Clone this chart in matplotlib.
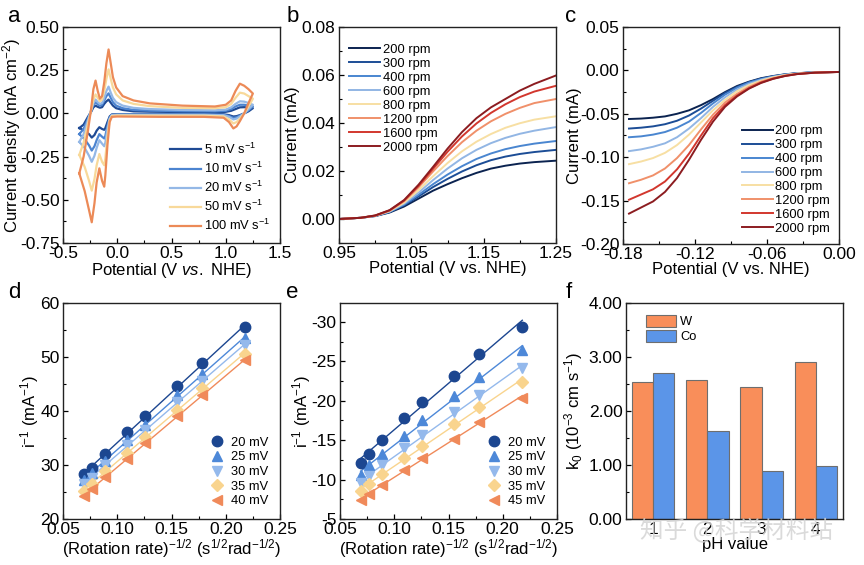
import numpy as np
import matplotlib
matplotlib.use("Agg")
import matplotlib.pyplot as plt
from matplotlib.ticker import MultipleLocator, FormatStrFormatter
from matplotlib.lines import Line2D

plt.rcParams['font.family'] = ['Liberation Sans', 'DejaVu Sans']
plt.rcParams['mathtext.fontset'] = 'custom'
plt.rcParams['mathtext.rm'] = 'Liberation Sans'
plt.rcParams['mathtext.it'] = 'Liberation Sans:italic'
plt.rcParams['mathtext.bf'] = 'Liberation Sans:bold'
plt.rcParams['axes.unicode_minus'] = False

# ---------------- Panel a: CV data ----------------
cv_labels = ["5 mV s$^{-1}$", "10 mV s$^{-1}$", "20 mV s$^{-1}$", "50 mV s$^{-1}$", "100 mV s$^{-1}$"]
cv_colors = ["#1F4A94", "#4C84D0", "#94B8E6", "#F8D99A", "#EC8A57"]
cv_x_anodic = [-0.35, -0.31, -0.27, -0.24, -0.22, -0.20, -0.18, -0.16, -0.14, -0.12, -0.10, -0.08, -0.06,
               -0.04, -0.01, 0.05, 0.15, 0.3, 0.6, 0.9, 1.0, 1.05, 1.09, 1.13, 1.17, 1.21, 1.25]
cv_x_cathodic = [1.25, 1.21, 1.17, 1.13, 1.10, 1.07, 1.03, 0.98, 0.8, 0.4, 0.0, -0.05, -0.07, -0.09,
                 -0.11, -0.12, -0.14, -0.165, -0.19, -0.21, -0.235, -0.26, -0.30, -0.35]
cv5_anodic = [-0.085, -0.065, -0.02, 0.01, 0.035, 0.045, 0.038, 0.033, 0.036, 0.055, 0.07, 0.08, 0.062,
              0.045, 0.03, 0.02, 0.012, 0.01, 0.008, 0.007, 0.009, 0.015, 0.025, 0.035, 0.036, 0.033, 0.03]
cv5_cathodic = [0.03, 0.012, 0.0, -0.01, -0.016, -0.018, -0.01, -0.005, -0.004, -0.004, -0.004, -0.006,
                -0.018, -0.05, -0.085, -0.095, -0.09, -0.08, -0.10, -0.125, -0.14, -0.12, -0.10, -0.085]
cv10_anodic = [-0.12, -0.09, -0.03, 0.015, 0.05, 0.065, 0.052, 0.045, 0.05, 0.075, 0.10, 0.116, 0.09,
               0.065, 0.045, 0.03, 0.02, 0.016, 0.013, 0.012, 0.015, 0.025, 0.04, 0.05, 0.05, 0.045, 0.04]
cv10_cathodic = [0.04, 0.018, 0.0, -0.013, -0.022, -0.026, -0.015, -0.008, -0.006, -0.006, -0.006, -0.008,
                 -0.025, -0.07, -0.13, -0.145, -0.135, -0.12, -0.155, -0.19, -0.215, -0.185, -0.15, -0.12]
cv20_anodic = [-0.165, -0.12, -0.04, 0.02, 0.06, 0.08, 0.065, 0.055, 0.06, 0.09, 0.13, 0.155, 0.12,
               0.09, 0.065, 0.045, 0.032, 0.025, 0.02, 0.018, 0.022, 0.035, 0.055, 0.07, 0.068, 0.06, 0.05]
cv20_cathodic = [0.05, 0.025, 0.0, -0.018, -0.03, -0.035, -0.02, -0.01, -0.008, -0.008, -0.008, -0.01,
                 -0.03, -0.09, -0.17, -0.19, -0.175, -0.155, -0.20, -0.245, -0.28, -0.245, -0.20, -0.165]
cv50_anodic = [-0.24, -0.17, -0.06, 0.02, 0.08, 0.11, 0.09, 0.07, 0.08, 0.13, 0.20, 0.255, 0.20,
               0.15, 0.11, 0.075, 0.055, 0.042, 0.032, 0.03, 0.036, 0.055, 0.09, 0.12, 0.115, 0.10, 0.085]
cv50_cathodic = [0.085, 0.04, 0.0, -0.03, -0.05, -0.058, -0.035, -0.017, -0.013, -0.013, -0.012, -0.015,
                 -0.04, -0.13, -0.26, -0.30, -0.28, -0.235, -0.30, -0.38, -0.447, -0.39, -0.31, -0.24]
cv100_anodic = [-0.347, -0.25, -0.10, 0.03, 0.14, 0.19, 0.13, 0.085, 0.10, 0.18, 0.29, 0.37, 0.29,
                0.21, 0.15, 0.10, 0.075, 0.058, 0.045, 0.040, 0.050, 0.075, 0.13, 0.172, 0.16, 0.14, 0.115]
cv100_cathodic = [0.115, 0.06, 0.0, -0.045, -0.075, -0.087, -0.05, -0.025, -0.02, -0.02, -0.018, -0.02,
                  -0.05, -0.18, -0.36, -0.424, -0.39, -0.318, -0.40, -0.52, -0.63, -0.56, -0.45, -0.347]
cv_anodic = [cv5_anodic, cv10_anodic, cv20_anodic, cv50_anodic, cv100_anodic]
cv_cathodic = [cv5_cathodic, cv10_cathodic, cv20_cathodic, cv50_cathodic, cv100_cathodic]

# ---------------- Panels b, c: LSV data ----------------
rpm_labels = ["200 rpm", "300 rpm", "400 rpm", "600 rpm", "800 rpm", "1200 rpm", "1600 rpm", "2000 rpm"]
rpm_colors = ["#0B2350", "#1C4D96", "#4A86D0", "#92B6E4", "#F7DFA3", "#F0906A", "#D2372E", "#8C1C20"]

b_x = [0.95, 0.98, 1.00, 1.02, 1.04, 1.06, 1.08, 1.10, 1.12, 1.14, 1.16, 1.18, 1.20, 1.22, 1.25]
b_200 = [0, 0.0005, 0.0012, 0.0027, 0.0052, 0.0085, 0.0118, 0.0145, 0.0170, 0.0192, 0.0210, 0.0222, 0.0231, 0.0237, 0.0243]
b_300 = [0, 0.0005, 0.0013, 0.0029, 0.0057, 0.0094, 0.0133, 0.0167, 0.0198, 0.0224, 0.0245, 0.0260, 0.0271, 0.0279, 0.0288]
b_400 = [0, 0.0005, 0.0013, 0.0030, 0.0060, 0.0101, 0.0145, 0.0185, 0.0220, 0.0250, 0.0273, 0.0291, 0.0304, 0.0314, 0.0325]
b_600 = [0, 0.0005, 0.0013, 0.0031, 0.0064, 0.0110, 0.0162, 0.0210, 0.0253, 0.0288, 0.0316, 0.0338, 0.0355, 0.0368, 0.0383]
b_800 = [0, 0.0005, 0.0014, 0.0033, 0.0068, 0.0120, 0.0178, 0.0233, 0.0282, 0.0322, 0.0354, 0.0380, 0.0399, 0.0414, 0.0428]
b_1200 = [0, 0.0005, 0.0014, 0.0035, 0.0074, 0.0132, 0.0198, 0.0262, 0.0320, 0.0368, 0.0407, 0.0438, 0.0463, 0.0483, 0.0500]
b_1600 = [0, 0.0005, 0.0014, 0.0036, 0.0077, 0.0138, 0.0209, 0.0280, 0.0344, 0.0398, 0.0442, 0.0478, 0.0508, 0.0531, 0.0555]
b_2000 = [0, 0.0005, 0.0015, 0.0037, 0.0079, 0.0143, 0.0217, 0.0293, 0.0362, 0.0420, 0.0465, 0.0500, 0.0535, 0.0563, 0.0598]
b_series = [b_200, b_300, b_400, b_600, b_800, b_1200, b_1600, b_2000]

c_x = [-0.175, -0.165, -0.155, -0.145, -0.135, -0.125, -0.115, -0.105, -0.095, -0.085, -0.075, -0.065,
       -0.055, -0.045, -0.035, -0.02, 0.0]
c_200 = [-0.056, -0.0555, -0.0545, -0.053, -0.050, -0.046, -0.040, -0.033, -0.025, -0.018, -0.013, -0.009, -0.0065, -0.0045, -0.0032, -0.0022, -0.0018]
c_300 = [-0.067, -0.066, -0.0645, -0.062, -0.058, -0.052, -0.044, -0.035, -0.026, -0.019, -0.0135, -0.0095, -0.0068, -0.0047, -0.0033, -0.0022, -0.0018]
c_400 = [-0.077, -0.076, -0.074, -0.071, -0.066, -0.059, -0.049, -0.038, -0.028, -0.020, -0.014, -0.010, -0.007, -0.0048, -0.0034, -0.0022, -0.0018]
c_600 = [-0.093, -0.091, -0.088, -0.084, -0.077, -0.067, -0.055, -0.042, -0.031, -0.022, -0.0155, -0.0108, -0.0075, -0.005, -0.0035, -0.0023, -0.0018]
c_800 = [-0.108, -0.105, -0.101, -0.095, -0.086, -0.074, -0.060, -0.046, -0.034, -0.024, -0.017, -0.0118, -0.008, -0.0054, -0.0037, -0.0024, -0.0018]
c_1200 = [-0.130, -0.126, -0.121, -0.113, -0.101, -0.086, -0.068, -0.051, -0.037, -0.027, -0.019, -0.013, -0.009, -0.006, -0.004, -0.0025, -0.0018]
c_1600 = [-0.149, -0.143, -0.137, -0.128, -0.114, -0.096, -0.075, -0.055, -0.040, -0.029, -0.0205, -0.014, -0.0095, -0.0063, -0.0042, -0.0026, -0.0018]
c_2000 = [-0.165, -0.158, -0.151, -0.140, -0.124, -0.103, -0.080, -0.059, -0.042, -0.030, -0.021, -0.0145, -0.0098, -0.0065, -0.0043, -0.0026, -0.0018]
c_series = [c_200, c_300, c_400, c_600, c_800, c_1200, c_1600, c_2000]

# ---------------- Panels d, e: Koutecky-Levich ----------------
kl_x = [0.069, 0.077, 0.089, 0.109, 0.126, 0.155, 0.178, 0.218]
d_labels = ["20 mV", "25 mV", "30 mV", "35 mV", "40 mV"]
d_20 = [28.3, 29.5, 32.0, 36.1, 39.1, 44.7, 48.8, 55.5]
d_25 = [27.3, 28.5, 30.8, 34.7, 37.4, 43.0, 46.8, 53.5]
d_30 = [26.5, 27.6, 30.0, 33.7, 36.5, 41.7, 45.6, 52.2]
d_35 = [25.2, 26.5, 28.8, 32.3, 35.2, 40.2, 44.2, 50.5]
d_40 = [24.3, 25.6, 27.7, 31.2, 34.0, 39.0, 43.0, 49.4]
d_series = [d_20, d_25, d_30, d_35, d_40]

e_labels = ["20 mV", "25 mV", "30 mV", "35 mV", "45 mV"]
e_20 = [-12.1, -13.3, -15.0, -17.8, -19.9, -23.2, -25.9, -29.4]
e_25 = [-10.6, -11.8, -13.2, -15.5, -17.5, -20.6, -23.0, -26.4]
e_30 = [-9.6, -10.5, -11.8, -14.0, -15.7, -18.6, -20.7, -24.1]
e_35 = [-8.5, -9.4, -10.7, -12.8, -14.3, -17.0, -19.2, -22.4]
e_45 = [-7.4, -8.2, -9.3, -11.2, -12.7, -15.2, -17.3, -20.4]
e_series = [e_20, e_25, e_30, e_35, e_45]

kl_colors = ["#1C4690", "#4D88D8", "#94B9EC", "#F9D48E", "#F08A5A"]
kl_markers = ["o", "^", "v", "D", "<"]
kl_msizes = [7.5, 7.5, 7.5, 6.5, 7.5]

# ---------------- Panel f: bars ----------------
ph_values = [1, 2, 3, 4]
k0_W = [2.54, 2.57, 2.45, 2.90]
k0_Co = [2.71, 1.63, 0.88, 0.98]
bar_labels = ["W", "Co"]
bar_colors = ["#F98E5A", "#5B95E8"]

# ---------------- Figure ----------------
fig = plt.figure(figsize=(8.64, 5.65), dpi=100)
W, H = 864, 565

def add_ax(left, top, right, bottom):
    return fig.add_axes([left / W, 1 - bottom / H, (right - left) / W, (bottom - top) / H])

axa = add_ax(63, 27, 280, 243)
axb = add_ax(339, 27, 556, 243)
axc = add_ax(623, 27, 839, 244)
axd = add_ax(63, 303, 280, 519)
axe = add_ax(340, 303, 557, 519)
axf = add_ax(626, 303, 843, 519)

TICK_FS = 12.5
LAB_FS = 12
LEG_FS = 9.3

def style(ax):
    for s in ax.spines.values():
        s.set_linewidth(1.0)
        s.set_color("#222222")
    ax.tick_params(which="both", direction="in", top=False, right=False, labelsize=TICK_FS, pad=2.5)
    ax.tick_params(which="major", length=3.5, width=0.9)
    ax.tick_params(which="minor", length=2, width=0.8)

def place_ylabel(ax, left_px, right_edge_px):
    # y-label anchor is the right edge of the rotated text
    ax.yaxis.set_label_coords((right_edge_px - left_px) / 217.0, 0.5)

# Panel a
for xa, ya, xc, yc, col, lab in zip([cv_x_anodic] * 5, cv_anodic, [cv_x_cathodic] * 5, cv_cathodic, cv_colors, cv_labels):
    xs = list(xa) + list(xc)
    ys = list(ya) + list(yc)
    axa.plot(xs, ys, color=col, lw=1.6, label=lab)
axa.set_xlim(-0.5, 1.5)
axa.set_ylim(-0.75, 0.50)
axa.xaxis.set_major_locator(MultipleLocator(0.5))
axa.xaxis.set_minor_locator(MultipleLocator(0.25))
axa.yaxis.set_major_locator(MultipleLocator(0.25))
axa.yaxis.set_minor_locator(MultipleLocator(0.125))
axa.xaxis.set_major_formatter(FormatStrFormatter("%.1f"))
axa.yaxis.set_major_formatter(FormatStrFormatter("%.2f"))
axa.set_xlabel("Potential (V $\\it{vs.}$ NHE)", fontsize=LAB_FS, labelpad=0)
axa.set_ylabel("Current density (mA cm$^{-2}$)", fontsize=LAB_FS)
place_ylabel(axa, 63, 23)
style(axa)
axa.legend(loc="lower right", bbox_to_anchor=(1.0, 0.0), frameon=False, fontsize=LEG_FS,
           handlelength=2.4, handletextpad=0.2, labelspacing=0.3, borderaxespad=0.35)

# Panel b
for ys, col, lab in zip(b_series, rpm_colors, rpm_labels):
    axb.plot(b_x, ys, color=col, lw=1.4, label=lab)
axb.set_xlim(0.95, 1.25)
axb.set_ylim(-0.01, 0.08)
axb.set_xticks([0.95, 1.05, 1.15, 1.25])
axb.xaxis.set_minor_locator(MultipleLocator(0.05))
axb.yaxis.set_major_locator(MultipleLocator(0.02))
axb.yaxis.set_minor_locator(MultipleLocator(0.01))
axb.xaxis.set_major_formatter(FormatStrFormatter("%.2f"))
axb.yaxis.set_major_formatter(FormatStrFormatter("%.2f"))
axb.set_xlabel("Potential (V vs. NHE)", fontsize=LAB_FS, labelpad=0)
axb.set_ylabel("Current (mA)", fontsize=LAB_FS)
place_ylabel(axb, 339, 300)
style(axb)
axb.legend(loc="upper left", frameon=False, fontsize=LEG_FS, handlelength=2.4, handletextpad=0.2,
           labelspacing=0.15, borderaxespad=0.4, bbox_to_anchor=(0.0, 0.97))

# Panel c
for ys, col, lab in zip(c_series, rpm_colors, rpm_labels):
    axc.plot(c_x, ys, color=col, lw=1.4, label=lab)
axc.set_xlim(-0.18, 0.0)
axc.set_ylim(-0.20, 0.05)
axc.set_xticks([-0.18, -0.12, -0.06, 0.0])
axc.xaxis.set_minor_locator(MultipleLocator(0.03))
axc.yaxis.set_major_locator(MultipleLocator(0.05))
axc.yaxis.set_minor_locator(MultipleLocator(0.025))
axc.xaxis.set_major_formatter(FormatStrFormatter("%.2f"))
axc.yaxis.set_major_formatter(FormatStrFormatter("%.2f"))
axc.set_xlabel("Potential (V vs. NHE)", fontsize=LAB_FS, labelpad=0)
axc.set_ylabel("Current (mA)", fontsize=LAB_FS)
place_ylabel(axc, 623, 582)
style(axc)
axc.legend(loc="lower right", frameon=False, fontsize=LEG_FS, handlelength=2.4, handletextpad=0.2,
           labelspacing=0.15, borderaxespad=0.3)

# Panels d, e
def kl_panel(ax, series, labels):
    xarr = np.array(kl_x)
    handles = []
    for ys, col, mk, ms, lab in zip(series, kl_colors, kl_markers, kl_msizes, labels):
        yarr = np.array(ys)
        p = np.polyfit(xarr, yarr, 1)
        xf = np.array([xarr.min(), xarr.max()])
        ax.plot(xf, np.polyval(p, xf), color=col, lw=1.0, zorder=2)
        ax.plot(xarr, yarr, linestyle="none", marker=mk, ms=ms, color=col, mec=col, zorder=3)
        handles.append(Line2D([], [], linestyle="none", marker=mk, ms=ms, color=col, label=lab))
    ax.legend(handles=handles, loc="lower right", frameon=False, fontsize=LEG_FS, handlelength=1.2,
              handletextpad=0.5, labelspacing=0.2, borderaxespad=0.5)

kl_panel(axd, d_series, d_labels)
axd.set_xlim(0.05, 0.25)
axd.set_ylim(20, 60)
axd.xaxis.set_major_locator(MultipleLocator(0.05))
axd.xaxis.set_minor_locator(MultipleLocator(0.025))
axd.yaxis.set_major_locator(MultipleLocator(10))
axd.yaxis.set_minor_locator(MultipleLocator(5))
axd.xaxis.set_major_formatter(FormatStrFormatter("%.2f"))
axd.set_xlabel("(Rotation rate)$^{-1/2}$ (s$^{1/2}$rad$^{-1/2}$)", fontsize=LAB_FS, labelpad=0)
axd.set_ylabel("i$^{-1}$ (mA$^{-1}$)", fontsize=LAB_FS)
place_ylabel(axd, 63, 41)
style(axd)

kl_panel(axe, e_series, e_labels)
axe.set_xlim(0.05, 0.25)
axe.set_ylim(-5, -32.4)
axe.xaxis.set_major_locator(MultipleLocator(0.05))
axe.xaxis.set_minor_locator(MultipleLocator(0.025))
axe.yaxis.set_major_locator(MultipleLocator(5))
axe.yaxis.set_minor_locator(MultipleLocator(2.5))
axe.xaxis.set_major_formatter(FormatStrFormatter("%.2f"))
axe.yaxis.set_major_formatter(FormatStrFormatter("%d"))
axe.set_xlabel("(Rotation rate)$^{-1/2}$ (s$^{1/2}$rad$^{-1/2}$)", fontsize=LAB_FS, labelpad=0)
axe.set_ylabel("i$^{-1}$ (mA$^{-1}$)", fontsize=LAB_FS)
place_ylabel(axe, 340, 313)
style(axe)

# Panel f
bw = 0.39
xph = np.array(ph_values, dtype=float)
axf.bar(xph - bw / 2, k0_W, width=bw, color=bar_colors[0], edgecolor="#6e6e6e", lw=0.8, label=bar_labels[0])
axf.bar(xph + bw / 2, k0_Co, width=bw, color=bar_colors[1], edgecolor="#6e6e6e", lw=0.8, label=bar_labels[1])
axf.set_xlim(0.5, 4.5)
axf.set_ylim(0, 4)
axf.set_xticks(ph_values)
axf.set_xticklabels([str(v) for v in ph_values])
axf.yaxis.set_major_locator(MultipleLocator(1))
axf.yaxis.set_minor_locator(MultipleLocator(0.5))
axf.yaxis.set_major_formatter(FormatStrFormatter("%.2f"))
axf.set_xlabel("pH value", fontsize=LAB_FS, labelpad=0)
axf.set_ylabel("k$_0$ (10$^{-3}$ cm s$^{-1}$)", fontsize=LAB_FS)
place_ylabel(axf, 626, 585)
style(axf)
axf.tick_params(axis="x", which="both", length=0)
axf.legend(loc="upper left", frameon=False, fontsize=LEG_FS, handlelength=2.3, handleheight=1.1,
           handletextpad=0.3, labelspacing=0.1, borderaxespad=0.5, bbox_to_anchor=(0.04, 1.0))

# Panel letters
for txt, (px, py) in zip("abcdef", [(8, 16), (287, 16), (565, 16), (8, 292), (286, 292), (566, 292)]):
    fig.text(px / W, 1 - py / H, txt, fontsize=16, ha="left", va="center")

# Watermark
fig.text(737 / W, 1 - 530 / H, "知乎 @科学材料站", fontsize=17, ha="center", va="center",
         color="#d4d4d4", alpha=0.85, family=["Noto Sans CJK SC", "DejaVu Sans"], zorder=10)

fig.savefig("out.png", dpi=100)
